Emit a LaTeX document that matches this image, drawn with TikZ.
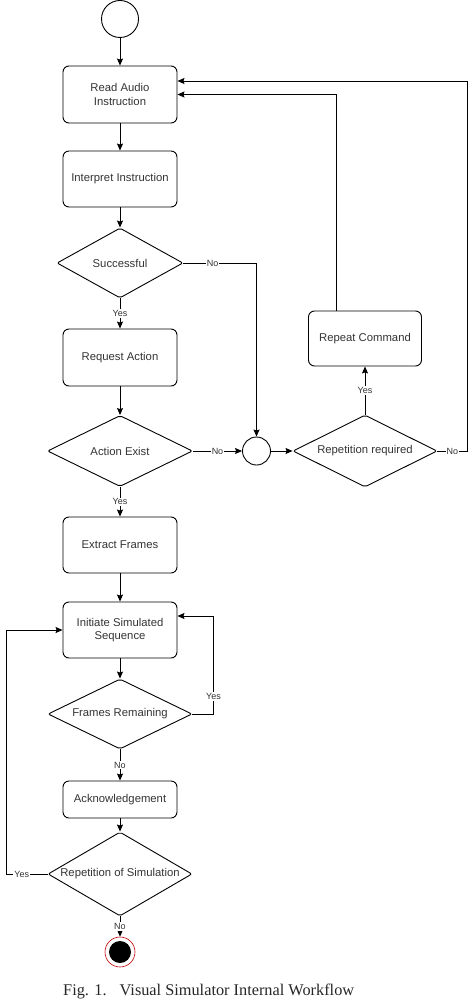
\documentclass[tikz,border=0pt]{standalone}
\usepackage{fontspec}
\setmainfont{Liberation Sans}
\newfontfamily\capfont{Liberation Serif}
\usetikzlibrary{shapes.geometric,arrows.meta,calc}
\begin{document}
\begin{tikzpicture}[x=1pt,y=-1pt,
  every node/.style={font=\fontsize{11.3}{13.2}\selectfont, text=black!80},
  box/.style={draw=black, rounded corners=6pt, minimum width=114pt, minimum height=56pt, align=center, line width=0.9pt, inner sep=2pt},
  dec/.style={draw=black, diamond, inner sep=0pt, line width=0.9pt, align=center, rounded corners=2pt},
  rnd/.style={draw=black, circle, inner sep=0pt, line width=0.9pt},
  arr/.style={-{Stealth[length=7pt,width=6pt,inset=1pt]}, line width=0.9pt},
  lbl/.style={fill=white, font=\fontsize{9}{10}\selectfont, inner sep=1pt, text=black!80},
]
\useasboundingbox (0,0) rectangle (474,1000);

% nodes
\node[rnd, minimum size=37pt] (start) at (120,19) {};
\node[box, minimum height=57pt] (read) at (120,94.5) {Read Audio\\Instruction};
\node[box] (interp) at (120,179) {Interpret Instruction};
\node[dec, aspect=1.8, minimum width=126pt, minimum height=70pt] (succ) at (120,263) {Successful};
\node[box, minimum height=57pt] (req) at (120,357.5) {Request Action};
\node[dec, aspect=2, minimum width=145pt, minimum height=71pt] (act) at (120,451) {Action Exist};
\node[box] (extract) at (120,545) {Extract Frames};
\node[box] (init) at (120,630) {Initiate Simulated\\Sequence};
\node[dec, aspect=2, minimum width=144pt, minimum height=70pt] (frames) at (120,714) {Frames Remaining};
\node[box, minimum height=37pt] (ack) at (120,799.5) {Acknowledgement};
\node[dec, aspect=1.71, minimum width=144pt, minimum height=84pt] (repsim) at (120,874) {Repetition of Simulation};
\node[circle, draw=red!75!black, line width=0.6pt, minimum size=30pt, inner sep=0pt,
      path picture={\fill[black] (path picture bounding box.center) circle[radius=11pt];}] (end) at (120,952) {};

\node[rnd, minimum size=28pt] (junc) at (256.5,451) {};
\node[dec, aspect=2, minimum width=144pt, minimum height=72pt] (rep) at (365,451) {Repetition required};
\node[box, minimum width=113pt, minimum height=55pt] (repcmd) at (365,338.5) {Repeat Command};

% connectors
\draw[arr] (start) -- (read);
\draw[arr] (read) -- (interp);
\draw[arr] (interp) -- (succ);
\draw[arr] (succ) -- node[lbl]{Yes} (req);
\draw[arr] (succ.east) -| node[lbl,pos=0.2]{No} (junc.north);
\draw[arr] (req) -- (act);
\draw[arr] (act) -- node[lbl]{Yes} (extract);
\draw[arr] (act) -- node[lbl]{No} (junc);
\draw[arr] (junc) -- (rep);
\draw[arr] (rep) -- node[lbl]{Yes} (repcmd);
\draw[arr] ($(repcmd.north)+(-29,0)$) |- (read.east);
\draw[arr] (rep.east) -- node[lbl]{No} ++(30,0) |- ($(read.east)+(0,-13.5)$);
\draw[arr] (extract) -- (init);
\draw[arr] (init) -- (frames);
\draw[arr] (frames.east) -- ++(21,0) |- node[lbl,pos=0.09]{Yes} ($(init.east)+(0,-14)$);
\draw[arr] (frames) -- node[lbl]{No} (ack);
\draw[arr] (ack) -- (repsim);
\draw[arr] (repsim.west) -- node[lbl,pos=0.63]{Yes} ++(-41,0) |- (init.west);
\draw[arr] (repsim) -- node[lbl]{No} (end);

% caption
\node[anchor=base west, font={\capfont\fontsize{16.3}{18}\selectfont}, text=black!85, inner sep=0pt] (cap) at (63,995) {Fig. 1.\hspace{13pt}Visual Simulator Internal Workflow};
\end{tikzpicture}
\end{document}
